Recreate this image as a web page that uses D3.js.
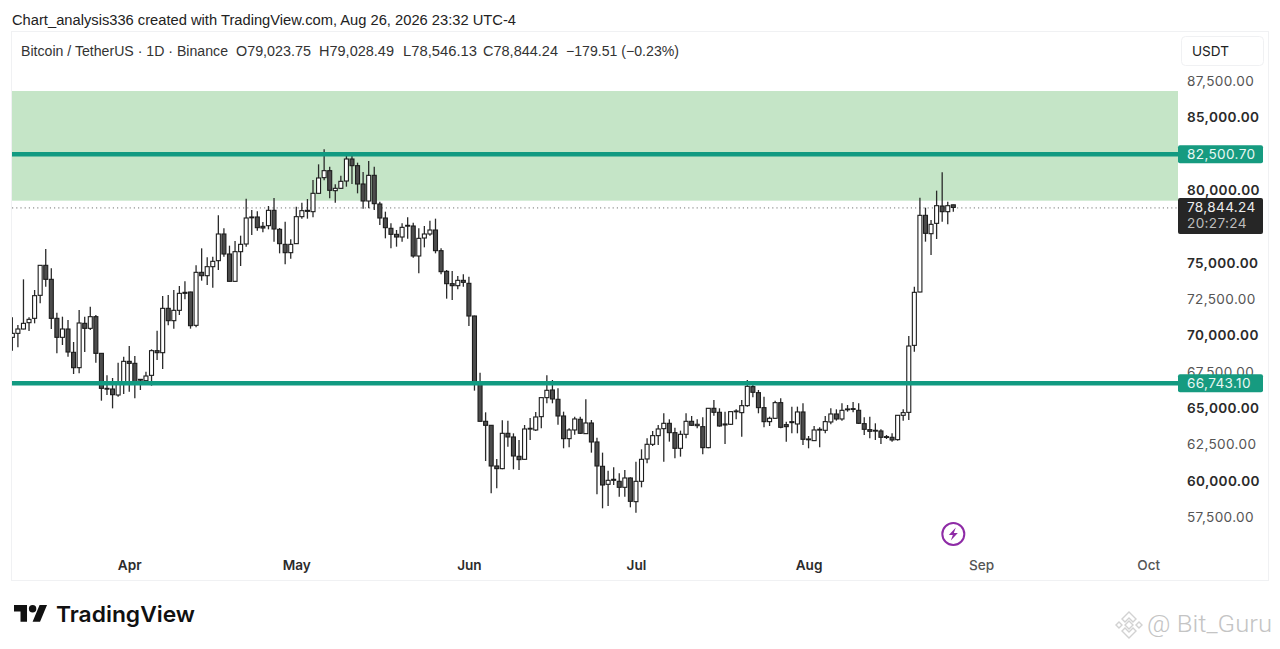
<!DOCTYPE html>
<html><head><meta charset="utf-8">
<script src="https://cdn.jsdelivr.net/npm/d3@7/dist/d3.min.js"></script>
<style>html,body{margin:0;padding:0;background:#fff;overflow:hidden}svg{display:block}</style>
</head><body><svg id="c" width="1280" height="649"></svg>
<script>
const firstDay = "2026-03-11";
const opens = [
69905,70180,70478,70914,71212,72795,74860,73896,71212,69905,
70478,68872,67817,70868,70524,71327,68803,66395,66349,65936,
66808,68253,68115,67014,66923,67289,68987,68849,71900,71052,
71763,73001,73024,70730,74378,74148,74768,75181,77016,75639,
73758,75800,76328,78186,78186,77544,77589,78645,77337,76305,
75731,76351,78209,78645,78553,79815,80893,81375,79998,80159,
80663,82177,81719,80457,79287,81053,79080,78117,77406,76993,
76809,77612,77567,75502,76741,77016,77291,75869,74447,73598,
73460,73827,73621,71373,66695,64126,63851,61052,60869,63300,
63048,61717,61511,63598,63530,64447,65755,66282,65640,64493,
62933,63530,64264,63277,64011,62704,61029,59790,60135,59997,
59584,60226,58597,59997,61534,62543,63140,63621,63988,63346,
62268,63231,64126,63828,63759,62314,65021,64746,63943,63920,
64791,64723,65204,66512,66099,65067,64103,64333,65411,63897,
64035,63943,64769,62865,62796,63530,63507,64080,64631,64287,
64929,64998,64883,63966,63553,63507,63461,63071,63025,62865,
64539,64742,69353,73024,78300,77038,77749,78942,78552,79023.75];
const highs = [
71281,70753,73896,71281,73162,74860,75984,74653,71602,71327,
71097,69583,71786,71327,72015,71441,68803,67289,67106,68161,
68574,69308,68620,67014,67542,69079,70363,72749,72818,73162,
73437,73758,73047,74860,76030,75410,75456,78301,77406,76213,
76534,76901,79448,78668,78576,77842,78943,79493,77429,77865,
76649,78897,79172,79425,80732,81810,82843,81650,80434,81030,
82476,82384,81925,81283,82040,81650,79241,78553,77750,77291,
77750,78163,77796,77406,77567,77933,78071,76030,74538,74470,
74125,74240,74080,71400,67475,64745,63874,61534,64195,64172,
63300,62841,63874,64355,64768,65755,67292,66971,66397,64791,
63644,64447,64447,65640,64218,63002,61970,60731,60960,60547,
60777,60272,61350,62199,62956,63461,63874,64677,64264,63690,
63484,64677,64493,64264,64402,65021,65594,65021,64791,64791,
64952,65594,66971,66695,66283,65824,64447,65549,65709,64103,
65136,65136,65365,63117,63805,63713,64493,65021,64952,65365,
65250,65457,65365,64402,64447,63989,63576,63186,63300,64562,
64952,69996,73391,79516,78828,77979,79998,81259,79240,79028.49];
const lows = [
68987,69216,70455,70340,70868,72244,73391,70478,68803,69377,
68574,67381,67427,68895,70409,68161,65546,65936,65018,65821,
66005,66165,65707,66280,66785,66578,68345,67725,70730,70501,
71441,72520,70501,70593,73804,73506,73323,74538,75456,73758,
73713,74814,76144,76947,77245,77131,77337,76488,75685,74928,
75318,76328,78071,78071,78163,79792,80709,79471,79172,80113,
80273,80457,79815,78759,78782,78668,77635,76718,76030,76144,
76488,76695,75387,74309,76098,76901,75685,74240,72566,72474,
73208,73391,70684,66237,64126,61396,59171,59515,60823,62383,
60823,60777,61488,62841,63461,63644,65365,65365,63897,62268,
62337,63208,63254,63254,61970,59102,58139,58299,59744,58942,
58942,58208,57840,59584,61236,62428,62497,61350,62727,61580,
61695,62956,63805,63644,61855,62268,64516,63759,62566,63874,
64264,63071,65135,65778,64677,63713,63805,64287,63644,62727,
63300,63300,62498,62268,62796,62337,63300,63920,64172,64172,
64791,64746,63943,63186,62956,62842,62566,62910,62727,62796,
64172,64215,68918,73001,76488,75570,76671,77864,77681,78546.13];
const closes = [
70180,70478,70868,71143,72772,74860,73896,71212,69905,70478,
68895,67817,70891,70524,71327,68803,66395,66349,65959,66739,
68253,68115,66854,66968,67244,68987,68849,71900,71052,71763,
72932,72932,70707,74378,74148,74768,75135,77016,75639,73758,
75800,76305,78117,78140,77452,77429,78645,77360,76351,75731,
76305,78209,78622,78576,79815,80870,81375,80021,80159,80640,
82177,81719,80457,79287,81053,79103,78117,77452,76993,76809,
77475,77567,75502,76718,77016,77291,75869,74424,73598,73460,
73827,73690,71373,66741,64126,63851,61052,60869,63300,63048,
61740,61488,63598,63644,64424,65755,66259,65663,64493,62933,
63530,64287,63300,64011,62704,61052,59744,60066,60066,59584,
60226,58620,59997,61511,62543,63140,63598,63988,63346,62268,
63231,64126,63851,63920,62314,65021,64746,63805,63874,64791,
64837,65204,66535,66122,65067,64103,64333,65411,63713,63759,
64103,64769,62887,62911,63530,63576,64103,64631,64287,64883,
64975,64952,63989,63576,63438,63461,63025,63025,62842,64539,
64723,69307,73001,78300,77061,77681,78965,78552,78965,78844.24];
const priceTicks = [87500,85000,80000,75000,72500,70000,67500,65000,62500,60000,57500];
const boldTicks = [85000,80000,75000,70000,65000,60000];
const levels = [82500.70, 66743.10];
const zone = [86856, 79308];
const lastPrice = 78844.24;
const countdown = "20:27:24";
const monthLabels = ["2026-04-01","2026-05-01","2026-06-01","2026-07-01","2026-08-01","2026-09-01","2026-10-01"];
const attribution = "Chart_analysis336 created with TradingView.com, Aug 26, 2026 23:32 UTC-4";
const legendText = "Bitcoin / TetherUS · 1D · Binance";
const ohlcText = ["O79,023.75","H79,028.49","L78,546.13","C78,844.24","−179.51 (−0.23%)"];

const svg = d3.select("#c");
const FONT = "Inter, 'Noto Sans', sans-serif";
const L = 12, R = 1178, T = 32, B = 580, W = 1268;
const parse = d3.utcParse("%Y-%m-%d");
const day0 = parse(firstDay);
const x = d3.scaleUtc().domain([day0, parse("2026-10-01")]).range([12.33, 1148.2]);
const y = d3.scaleLinear().domain([57500, 87500]).range([517.6, 81.65]);
const fmt = d3.format(",.2f");

svg.append("defs").append("clipPath").attr("id","plot").append("rect")
  .attr("x",L).attr("y",T).attr("width",R-L).attr("height",B-T);

// frame
svg.append("rect").attr("x",L-.5).attr("y",T-.5).attr("width",W-L+1).attr("height",B-T+1)
  .attr("fill","#fff").attr("stroke","#f0f1f3");

// zone
svg.append("rect").attr("x",L).attr("width",R-L).attr("y",y(zone[0])).attr("height",y(zone[1])-y(zone[0])).attr("fill","#c5e5c7");

const plot = svg.append("g").attr("clip-path","url(#plot)");
// last price dotted line
plot.append("line").attr("x1",L).attr("x2",R).attr("y1",y(lastPrice)+.5).attr("y2",y(lastPrice)+.5)
  .attr("stroke","#777").attr("stroke-width",1).attr("stroke-dasharray","1.2 3");

// candles
const candles = opens.map((o,i)=>({d:d3.utcDay.offset(day0,i),o,h:highs[i],l:lows[i],c:closes[i]}));
const cg = plot.append("g");
cg.selectAll("line.w").data(candles).join("line").attr("class","w")
  .attr("x1",d=>x(d.d)).attr("x2",d=>x(d.d)).attr("y1",d=>y(d.h)).attr("y2",d=>y(d.l))
  .attr("stroke","#2a2a2a").attr("stroke-width",1.3);
cg.selectAll("rect.b").data(candles).join("rect").attr("class","b")
  .attr("x",d=>x(d.d)-2).attr("width",4)
  .attr("y",d=>y(Math.max(d.o,d.c)))
  .attr("height",d=>Math.max(.8,Math.abs(y(d.o)-y(d.c))))
  .attr("fill",d=>d.c>=d.o?"#fff":"#4c4c4c").attr("stroke","#1c1c1c").attr("stroke-width",1.1);

// levels
plot.selectAll("line.lv").data(levels).join("line").attr("class","lv")
  .attr("x1",L).attr("x2",R).attr("y1",d=>y(d)).attr("y2",d=>y(d))
  .attr("stroke","#119a81").attr("stroke-width",4.6);

// price axis
const axisY = d3.axisRight(y).tickValues(priceTicks).tickSize(0).tickPadding(0).tickFormat(fmt);
const ga = svg.append("g").attr("transform",`translate(1187,-0.8)`).call(axisY);
ga.select(".domain").remove();
ga.selectAll("text").attr("font-family",FONT).attr("font-size",13.6).attr("letter-spacing",.35)
  .attr("fill",d=>boldTicks.includes(d)?"#2b2b2b":"#555")
  .attr("font-weight",d=>boldTicks.includes(d)?600:400)
  .attr("x",0).attr("dy",".35em");

// price labels
const lab = svg.append("g");
levels.forEach(v=>{
  lab.append("rect").attr("x",R).attr("width",85).attr("y",y(v)-9).attr("height",18).attr("rx",2).attr("fill","#169b80");
  lab.append("text").attr("x",1187).attr("y",y(v)).attr("dy",".36em").attr("font-family",FONT).attr("font-size",13.6)
    .attr("letter-spacing",.35).attr("fill","#e8f7f3").text(fmt(v));
});
lab.append("rect").attr("x",R).attr("width",85).attr("y",198).attr("height",36).attr("rx",2).attr("fill","#262626");
lab.append("text").attr("x",1187).attr("y",y(lastPrice)).attr("dy",".36em").attr("font-family",FONT).attr("font-size",13.6)
  .attr("letter-spacing",.35).attr("fill","#eee").text(fmt(lastPrice));
lab.append("text").attr("x",1187).attr("y",223.5).attr("dy",".36em").attr("font-family",FONT).attr("font-size",13.6)
  .attr("letter-spacing",.35).attr("fill","#bdbdbd").text(countdown);

// USDT button
svg.append("rect").attr("x",1181.5).attr("y",36.5).attr("width",82).attr("height",29).attr("rx",4)
  .attr("fill","#fff").attr("stroke","#f0f1f3");
svg.append("text").attr("x",1192).attr("y",51).attr("dy",".36em").attr("font-family",FONT).attr("font-size",13.6)
  .attr("fill","#222").text("USDT");

// time axis
const axisX = d3.axisBottom(x).tickValues(monthLabels.map(parse)).tickSize(0).tickPadding(0).tickFormat(d3.utcFormat("%b"));
const gx = svg.append("g").attr("transform","translate(0,565)").call(axisX);
gx.select(".domain").remove();
gx.selectAll("text").attr("font-family",FONT).attr("font-size",13.6).attr("dy",".36em").attr("y",0)
  .attr("fill",(d,i)=>i<5?"#2b2b2b":"#555").attr("font-weight",(d,i)=>i<5?600:500);

// header
svg.append("text").attr("x",12).attr("y",20).attr("dy",".35em").attr("font-family","'Liberation Sans',sans-serif")
  .attr("font-size",14).attr("fill","#222").attr("textLength",504).attr("lengthAdjust","spacingAndGlyphs").text(attribution);
svg.append("text").attr("x",21).attr("y",51).attr("dy",".35em").attr("font-family","'Liberation Sans',sans-serif")
  .attr("font-size",14).attr("fill","#333").attr("textLength",207).attr("lengthAdjust","spacingAndGlyphs").text(legendText);
const ohlcX = [[236,75],[319,75],[403,74],[483,75],[566,113]];
ohlcText.forEach((t,i)=>svg.append("text").attr("x",ohlcX[i][0]).attr("y",51).attr("dy",".35em")
  .attr("font-family","'Liberation Sans',sans-serif").attr("font-size",14).attr("fill","#333")
  .attr("textLength",ohlcX[i][1]).attr("lengthAdjust","spacingAndGlyphs").text(t));

// lightning badge
const bolt = svg.append("g").attr("transform",`translate(${x(parse("2026-08-27"))},534)`);
bolt.append("circle").attr("r",11).attr("fill","#fff").attr("stroke","#8e2ba6").attr("stroke-width",2);
bolt.append("path").attr("d","M2.5-6.5L-4.5 1H-.5L-2.5 6.5L4.5-1H.5Z").attr("fill","#8e2ba6");

// TradingView logo
const logo = svg.append("g").attr("transform","translate(14,601.3) scale(.93)").attr("fill","#111");
logo.append("path").attr("d","M14 22H7V11H0V4h14v18zM28 22h-8l7.5-18h8L28 22z");
logo.append("circle").attr("cx",20).attr("cy",8).attr("r",4);
svg.append("text").attr("x",56).attr("y",614).attr("dy",".35em").attr("font-family","Inter, sans-serif")
  .attr("font-size",22).attr("font-weight",600).attr("fill","#111").attr("textLength",139)
  .attr("lengthAdjust","spacingAndGlyphs").text("TradingView");

// watermark
const wm = svg.append("g").attr("transform","translate(1129,625)").attr("fill","none").attr("stroke","#d2d2d2").attr("stroke-width",1.4);
wm.append("path").attr("d","M0-13L7-6L4-3L0-7L-4-3L-7-6Z");
wm.append("path").attr("d","M0 13L7 6L4 3L0 7L-4 3L-7 6Z");
wm.append("path").attr("d","M0-4L4 0L0 4L-4 0Z");
wm.append("path").attr("d","M-10-3L-7 0L-10 3L-13 0Z");
wm.append("path").attr("d","M10-3L13 0L10 3L7 0Z");
svg.append("text").attr("x",1147).attr("y",624).attr("dy",".35em").attr("font-family","Roboto, sans-serif")
  .attr("font-size",24).attr("font-weight",300).attr("fill","#c4c4c4").attr("textLength",125)
  .attr("lengthAdjust","spacingAndGlyphs").text("@ Bit_Guru");
</script></body></html>
